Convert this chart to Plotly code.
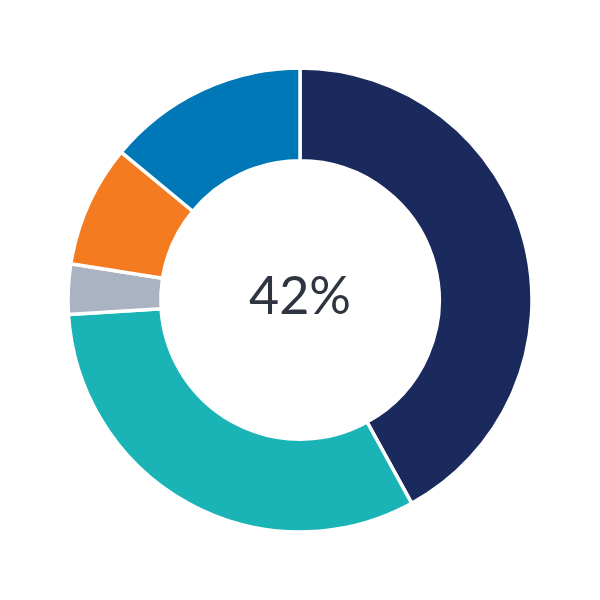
import plotly.graph_objects as go

labels = ["Navy", "Teal", "Gray", "Orange", "Blue"]
values = [42, 32, 3.5, 8.5, 14]
colors = ["#1b2a5c", "#1ab4b6", "#a9b3c1", "#f47b20", "#0077b6"]
center_text = "42%"

fig = go.Figure(go.Pie(
    labels=labels,
    values=values,
    hole=0.6,
    sort=False,
    direction="clockwise",
    rotation=0,
    marker=dict(colors=colors, line=dict(color="white", width=3.5)),
    textinfo="none",
    hoverinfo="label+percent",
    showlegend=False,
))

fig.add_annotation(
    text=center_text, x=0.5, y=0.5, xref="paper", yref="paper",
    showarrow=False, yshift=6,
    font=dict(family="Lato", size=52, color="#2f3540"),
)

fig.update_layout(
    width=600, height=600,
    margin=dict(l=60, r=76, t=60, b=76),
    paper_bgcolor="white", plot_bgcolor="white",
)

fig.write_html("out.html")
